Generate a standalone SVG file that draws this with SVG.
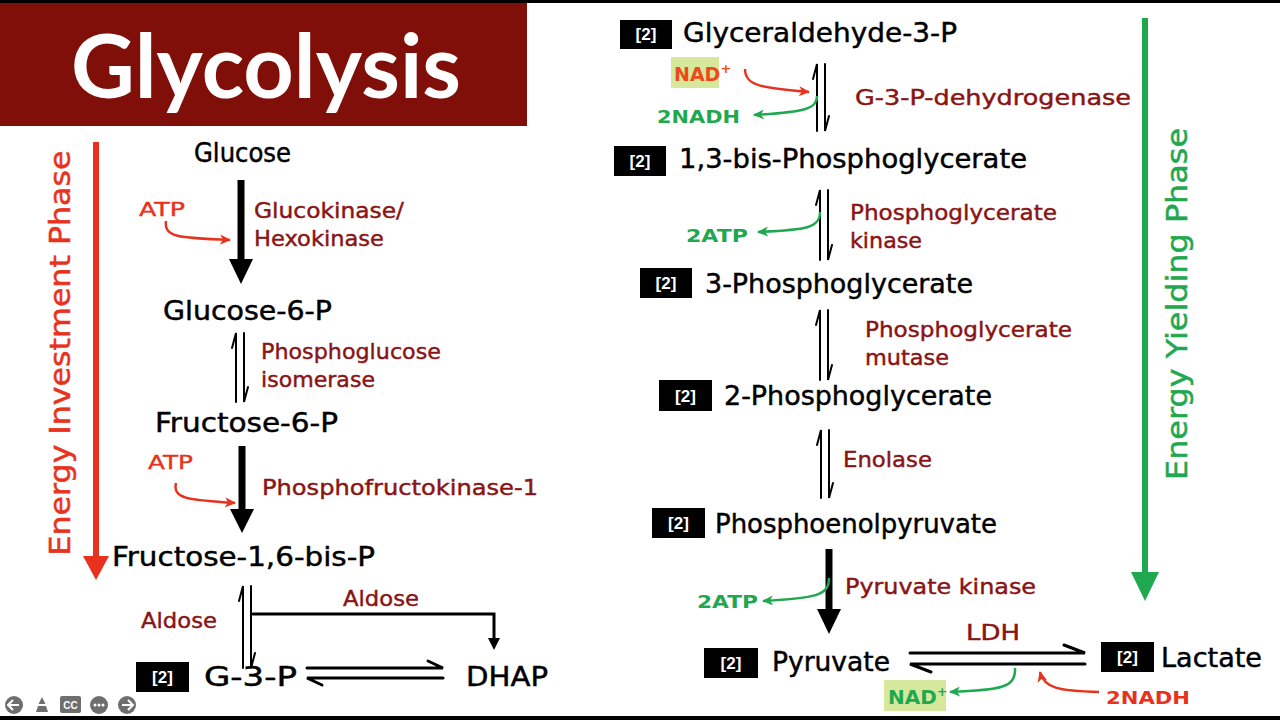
<svg xmlns="http://www.w3.org/2000/svg" width="1280" height="720" viewBox="0 0 1280 720">
<style>
text{font-family:"DejaVu Sans","Liberation Sans",sans-serif}
.cmp{font-size:26px;fill:#000;stroke:#000;stroke-width:0.45}
.enz{font-size:22px;fill:#8a1414;stroke:#8a1414;stroke-width:0.45}
.cof{font-size:18px;font-weight:bold}
.atp{font-size:19px;stroke:#e8321e;stroke-width:0.4}
.red{fill:#e8321e}
.grn{fill:#1fa84f}
.box{fill:#000}
.bt{font-family:"Liberation Sans",sans-serif;font-size:17px;font-weight:bold;fill:#fff;text-anchor:middle}
.eq{fill:none;stroke:#000;stroke-width:2;stroke-linecap:round}
.eqh{fill:none;stroke:#000;stroke-width:3;stroke-linecap:round}
.thick{stroke:#000;stroke-width:7}
.cr{fill:none;stroke:#e8321e;stroke-width:2.5}
.cg{fill:none;stroke:#1fa84f;stroke-width:2.5}
.hl{fill:#d6e89c}
.ctl{fill:#6e6e6e}
</style>
<defs>
<marker id="hr" markerUnits="userSpaceOnUse" markerWidth="12" markerHeight="12" viewBox="0 0 12 12" refX="10" refY="6" orient="auto"><path d="M0,1 L11,6 L0,11 L3,6 z" fill="#e8321e"/></marker>
<marker id="hg" markerUnits="userSpaceOnUse" markerWidth="12" markerHeight="12" viewBox="0 0 12 12" refX="10" refY="6" orient="auto"><path d="M0,1 L11,6 L0,11 L3,6 z" fill="#1fa84f"/></marker>
</defs>
<rect x="0" y="0" width="1280" height="720" fill="#fff"/>
<rect x="0" y="0" width="1280" height="3" fill="#000"/>
<rect x="0" y="716" width="1280" height="4" fill="#000"/>

<g id="title">
<rect x="0" y="3" width="527" height="123" fill="#800f09"/>
<text x="71" y="98" font-weight="bold" font-size="88" fill="#fff" textLength="390" lengthAdjust="spacingAndGlyphs" style="font-family:Lato,'Open Sans',sans-serif">Glycolysis</text>
</g>

<g id="investment-phase">
<line x1="96" y1="142" x2="96" y2="560" stroke="#e8321e" stroke-width="6"/>
<polygon points="83,556 109,556 96,580" fill="#e8321e"/>
<text class="red" transform="translate(70,353) rotate(-90)" text-anchor="middle" textLength="405" lengthAdjust="spacingAndGlyphs" style="font-size:29px;stroke:#e8321e;stroke-width:0.5">Energy Investment Phase</text>
</g>

<g id="yielding-phase">
<line x1="1145" y1="18" x2="1145" y2="576" stroke="#1fa84f" stroke-width="6"/>
<polygon points="1131,572 1159,572 1145,601" fill="#1fa84f"/>
<text class="grn" transform="translate(1187,304) rotate(-90)" text-anchor="middle" textLength="352" lengthAdjust="spacingAndGlyphs" style="font-size:29px;stroke:#1fa84f;stroke-width:0.5">Energy Yielding Phase</text>
</g>

<g id="connectors">
<line class="thick" x1="241" y1="180" x2="241" y2="262"/>
<polygon points="229,259 253,259 241,284"/>
<line class="thick" x1="242" y1="446" x2="242" y2="512"/>
<polygon points="230,509 254,509 242,533"/>
<line class="thick" x1="829" y1="549" x2="829" y2="612"/>
<polygon points="817,609 841,609 829,634"/>
<path class="eq" d="M236,402 V333 L232,348 M244,333 V402 L248,387"/>
<path class="eq" d="M243,668 V586 L239,601 M251,586 V668 L255,653"/>
<path class="eqh" d="M253,614 H494 V640" stroke-width="2.5"/>
<polygon points="488,638 500,638 494,650"/>
<path class="eq" d="M817,131 V64 L813,79 M825,64 V131 L829,116"/>
<path class="eq" d="M820,260 V190 L816,205 M828,190 V260 L832,245"/>
<path class="eq" d="M820,380 V310 L816,325 M828,310 V380 L832,365"/>
<path class="eq" d="M821,498 V430 L817,445 M829,430 V498 L833,483"/>
<path class="eqh" d="M307,668 H443 L428,661 M443,678 H307 L322,685"/>
<path class="eqh" d="M910,653 H1085 L1064,645 M1085,664 H910 L931,672"/>
<path class="cr" d="M166,221 C164,237 178,238 230,240" marker-end="url(#hr)"/>
<path class="cr" d="M176,483 C172,500 192,500 235,503" marker-end="url(#hr)"/>
<path class="cr" d="M745,69 C745,86 762,88 809,92" marker-end="url(#hr)"/>
<path class="cg" d="M817,96 C817,109 805,112 754,115" marker-end="url(#hg)"/>
<path class="cg" d="M820,212 C820,228 806,230 758,232" marker-end="url(#hg)"/>
<path class="cg" d="M829,578 C829,596 815,598 763,601" marker-end="url(#hg)"/>
<path class="cg" d="M1015,668 C1016,688 1000,690 950,692" marker-end="url(#hg)"/>
<path class="cr" d="M1099,692 C1058,691 1044,688 1040,672" marker-end="url(#hr)"/>
</g>

<g id="glucose"><text class="cmp" x="194" y="162" textLength="97" lengthAdjust="spacingAndGlyphs">Glucose</text></g>
<g id="atp1"><text class="atp red" x="139" y="216" textLength="46" lengthAdjust="spacingAndGlyphs">ATP</text></g>
<g id="hexokinase"><text class="enz" x="254" y="218" textLength="150" lengthAdjust="spacingAndGlyphs">Glucokinase/</text><text class="enz" x="254" y="246" textLength="130" lengthAdjust="spacingAndGlyphs">Hexokinase</text></g>
<g id="glucose-6-p"><text class="cmp" x="163" y="320" textLength="169" lengthAdjust="spacingAndGlyphs">Glucose-6-P</text></g>
<g id="phosphoglucose-isomerase"><text class="enz" x="261" y="359" textLength="180" lengthAdjust="spacingAndGlyphs">Phosphoglucose</text><text class="enz" x="261" y="387" textLength="114" lengthAdjust="spacingAndGlyphs">isomerase</text></g>
<g id="fructose-6-p"><text class="cmp" x="155" y="432" textLength="183" lengthAdjust="spacingAndGlyphs">Fructose-6-P</text></g>
<g id="atp2"><text class="atp red" x="148" y="469" textLength="45" lengthAdjust="spacingAndGlyphs">ATP</text></g>
<g id="pfk1"><text class="enz" x="262" y="495" textLength="276" lengthAdjust="spacingAndGlyphs">Phosphofructokinase-1</text></g>
<g id="fructose-16-bis-p"><text class="cmp" x="112" y="566" textLength="263" lengthAdjust="spacingAndGlyphs">Fructose-1,6-bis-P</text></g>
<g id="aldose-right"><text class="enz" x="343" y="606" textLength="76" lengthAdjust="spacingAndGlyphs">Aldose</text></g>
<g id="aldose-left"><text class="enz" x="141" y="628" textLength="76" lengthAdjust="spacingAndGlyphs">Aldose</text></g>
<g id="g3p-left"><rect class="box" x="136" y="662" width="53" height="30"/><text class="bt" x="162.5" y="683">[2]</text><text class="cmp" x="204" y="686" textLength="93" lengthAdjust="spacingAndGlyphs">G-3-P</text></g>
<g id="dhap"><text class="cmp" x="466" y="686" textLength="82" lengthAdjust="spacingAndGlyphs">DHAP</text></g>

<g id="glyceraldehyde-3-p"><rect class="box" x="620" y="20" width="52" height="29"/><text class="bt" x="646" y="40">[2]</text><text class="cmp" x="683" y="42" textLength="274" lengthAdjust="spacingAndGlyphs">Glyceraldehyde-3-P</text></g>
<g id="nad-top"><rect class="hl" x="671" y="57" width="48" height="31"/><text class="cof" x="674" y="81" style="fill:#ee4a1a;font-size:19px">NAD<tspan font-size="13" dy="-8">+</tspan></text></g>
<g id="nadh-top"><text class="cof grn" x="657" y="123" textLength="83" lengthAdjust="spacingAndGlyphs">2NADH</text></g>
<g id="g3p-dehydrogenase"><text class="enz" x="855" y="105" textLength="276" lengthAdjust="spacingAndGlyphs">G-3-P-dehydrogenase</text></g>
<g id="bisphosphoglycerate"><rect class="box" x="614" y="146" width="52" height="30"/><text class="bt" x="640" y="167">[2]</text><text class="cmp" x="679" y="168" textLength="348" lengthAdjust="spacingAndGlyphs">1,3-bis-Phosphoglycerate</text></g>
<g id="atp3"><text class="cof grn" x="686" y="242" textLength="62" lengthAdjust="spacingAndGlyphs">2ATP</text></g>
<g id="pgk"><text class="enz" x="850" y="220" textLength="207" lengthAdjust="spacingAndGlyphs">Phosphoglycerate</text><text class="enz" x="850" y="248" textLength="72" lengthAdjust="spacingAndGlyphs">kinase</text></g>
<g id="phosphoglycerate-3"><rect class="box" x="640" y="268" width="52" height="30"/><text class="bt" x="666" y="289">[2]</text><text class="cmp" x="705" y="293" textLength="268" lengthAdjust="spacingAndGlyphs">3-Phosphoglycerate</text></g>
<g id="pgm"><text class="enz" x="865" y="337" textLength="207" lengthAdjust="spacingAndGlyphs">Phosphoglycerate</text><text class="enz" x="865" y="365" textLength="84" lengthAdjust="spacingAndGlyphs">mutase</text></g>
<g id="phosphoglycerate-2"><rect class="box" x="659" y="380" width="53" height="31"/><text class="bt" x="685.5" y="402">[2]</text><text class="cmp" x="724" y="405" textLength="268" lengthAdjust="spacingAndGlyphs">2-Phosphoglycerate</text></g>
<g id="enolase"><text class="enz" x="843" y="467" textLength="89" lengthAdjust="spacingAndGlyphs">Enolase</text></g>
<g id="pep"><rect class="box" x="652" y="508" width="53" height="30"/><text class="bt" x="678.5" y="529">[2]</text><text class="cmp" x="715" y="533" textLength="282" lengthAdjust="spacingAndGlyphs">Phosphoenolpyruvate</text></g>
<g id="atp4"><text class="cof grn" x="697" y="608" textLength="61" lengthAdjust="spacingAndGlyphs">2ATP</text></g>
<g id="pyruvate-kinase"><text class="enz" x="845" y="594" textLength="191" lengthAdjust="spacingAndGlyphs">Pyruvate kinase</text></g>
<g id="pyruvate"><rect class="box" x="704" y="648" width="54" height="30"/><text class="bt" x="731" y="669">[2]</text><text class="cmp" x="772" y="671" textLength="118" lengthAdjust="spacingAndGlyphs">Pyruvate</text></g>
<g id="ldh"><text class="enz" x="966" y="640" textLength="54" lengthAdjust="spacingAndGlyphs">LDH</text></g>
<g id="lactate"><rect class="box" x="1101" y="642" width="53" height="30"/><text class="bt" x="1127.5" y="663">[2]</text><text class="cmp" x="1161" y="667" textLength="101" lengthAdjust="spacingAndGlyphs">Lactate</text></g>
<g id="nad-bottom"><rect class="hl" x="884" y="680" width="62" height="31"/><text class="cof grn" x="888" y="704" style="font-size:20px">NAD<tspan font-size="13" dy="-8">+</tspan></text></g>
<g id="nadh-bottom"><text class="cof red" x="1106" y="704" textLength="84" lengthAdjust="spacingAndGlyphs">2NADH</text></g>

<g id="player-controls">
<circle class="ctl" cx="14" cy="705" r="9"/>
<path d="M19,705 H9 M13,700 L8,705 L13,710" fill="none" stroke="#fff" stroke-width="2"/>
<path class="ctl" d="M36,712 L48,712 L45,703 L42,697 L39,703 z"/>
<rect x="36" y="704" width="12" height="2" fill="#fff"/>
<rect class="ctl" x="60" y="696" width="21" height="17" rx="2"/>
<text x="70.5" y="709" font-size="10" font-weight="bold" fill="#fff" text-anchor="middle" style="font-family:'Liberation Sans',sans-serif">CC</text>
<circle class="ctl" cx="99" cy="705" r="9"/>
<circle cx="95" cy="705" r="1.5" fill="#fff"/><circle cx="99" cy="705" r="1.5" fill="#fff"/><circle cx="103" cy="705" r="1.5" fill="#fff"/>
<circle class="ctl" cx="127" cy="705" r="9"/>
<path d="M122,705 H132 M128,700 L133,705 L128,710" fill="none" stroke="#fff" stroke-width="2"/>
</g>
</svg>
